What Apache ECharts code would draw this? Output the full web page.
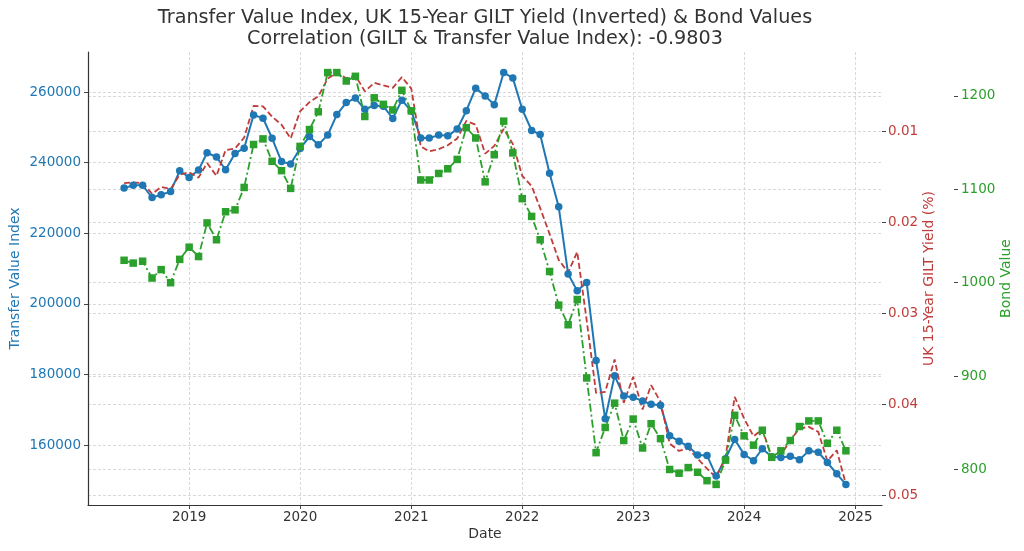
<!DOCTYPE html>
<html><head><meta charset="utf-8">
<script src="https://cdn.jsdelivr.net/npm/echarts@6/dist/echarts.min.js"></script>
<style>html,body{margin:0;padding:0;background:#fff}#c{width:1024px;height:551px}</style>
</head><body><div id="c"></div>
<script>
// ---- data ----
const dates = [
 '2018-06-01','2018-07-01','2018-08-01','2018-09-01','2018-10-01','2018-11-01','2018-12-01',
 '2019-01-01','2019-02-01','2019-03-01','2019-04-01','2019-05-01','2019-06-01','2019-07-01','2019-08-01','2019-09-01','2019-10-01','2019-11-01','2019-12-01',
 '2020-01-01','2020-02-01','2020-03-01','2020-04-01','2020-05-01','2020-06-01','2020-07-01','2020-08-01','2020-09-01','2020-10-01','2020-11-01','2020-12-01',
 '2021-01-01','2021-02-01','2021-03-01','2021-04-01','2021-05-01','2021-06-01','2021-07-01','2021-08-01','2021-09-01','2021-10-01','2021-11-01','2021-12-01',
 '2022-01-01','2022-02-01','2022-03-01','2022-04-01','2022-05-01','2022-06-01','2022-07-01','2022-08-01','2022-09-01','2022-10-01','2022-11-01','2022-12-01',
 '2023-01-01','2023-02-01','2023-03-01','2023-04-01','2023-05-01','2023-06-01','2023-07-01','2023-08-01','2023-09-01','2023-10-01','2023-11-01','2023-12-01',
 '2024-01-01','2024-02-01','2024-03-01','2024-04-01','2024-05-01','2024-06-01','2024-07-01','2024-08-01','2024-09-01','2024-10-01','2024-11-01','2024-12-01'
];
const transferValueIndex = [
 232800,233600,233600,230100,230900,231800,237700,235800,237900,242800,
 241600,238000,242600,244100,253500,252600,246900,240300,239600,244000,
 247400,245100,247800,253600,257000,258300,255100,256200,256000,252500,
 257700,254600,247000,247000,247800,247600,249500,254700,261100,258900,
 256400,265500,264000,255100,249100,248000,237000,227500,208500,203700,
 206100,184000,167500,179700,173900,173600,172500,171600,171300,162700,
 161100,159700,157200,157100,151300,156200,161600,157400,155600,159000,
 156700,156500,156900,155900,158400,158000,155100,151900,148900
];
const giltYield = [
 0.01565,0.01559,0.01565,0.01683,0.01609,0.01631,0.01471,0.01448,0.01505,0.01345,
 0.01485,0.01202,0.01185,0.01066,0.00717,0.00721,0.00835,0.00923,0.01075,0.00776,
 0.00675,0.00611,0.00416,0.00350,0.00413,0.00381,0.00556,0.00463,0.00490,0.00518,
 0.00399,0.00526,0.01162,0.01217,0.01193,0.01149,0.01075,0.00882,0.00923,0.01242,
 0.01156,0.00969,0.01134,0.01485,0.01598,0.01841,0.02124,0.02410,0.02548,0.02322,
 0.03072,0.03876,0.03862,0.03505,0.03983,0.03696,0.04056,0.03788,0.03972,0.04430,
 0.04512,0.04485,0.04596,0.04706,0.04805,0.04578,0.03917,0.04155,0.04350,0.04276,
 0.04578,0.04559,0.04394,0.04265,0.04247,0.04302,0.04622,0.04504,0.04880
];
const bondValue = [
 1024,1021,1023,1005,1014,1000,1025,1038,1028,1064,
 1046,1076,1078,1102,1148,1154,1130,1120,1101,1146,
 1164,1183,1225,1225,1216,1221,1178,1198,1191,1185,
 1206,1184,1110,1110,1117,1122,1132,1166,1155,1108,
 1137,1173,1139,1090,1071,1046,1012,976,955,982,
 898,818,845,871,831,854,823,849,833,800,
 796,802,797,788,784,810,858,836,826,842,
 813,820,831,846,852,852,828,842,820
];
const yearTicks = [2019,2020,2021,2022,2023,2024,2025];
const tviTicks = [160000,180000,200000,220000,240000,260000];
const yieldTicks = [0.01,0.02,0.03,0.04,0.05];
const bondTicks = [800,900,1000,1100,1200];

// ---- build ----
const FONT = 'DejaVu Sans';
const BLUE = '#1f77b4', RED = '#c03c3a', GREEN = '#2ca02c';
const ts = dates.map(d => { const p = d.split('-'); return new Date(+p[0], +p[1]-1, +p[2]).getTime(); });
const yearTs = yearTicks.map(y => new Date(y,0,1).getTime());
function padRange(arr){ const mn=Math.min(...arr), mx=Math.max(...arr), r=mx-mn; return [mn-0.05*r, mx+0.05*r]; }
const xr = padRange(ts), r1 = padRange(transferValueIndex), r2 = padRange(giltYield), r3 = padRange(bondValue);
const pairs = arr => arr.map((v,i)=>[ts[i], v]);
const grid = {show:true, lineStyle:{color:'#cfcfcf', type:[3,2], width:0.8}};
const tick = {length:4, lineStyle:{color:'#444', width:1}};

const chart = echarts.init(document.getElementById('c'), null, {renderer:'canvas'});
chart.setOption({
  animation:false,
  backgroundColor:'#fff',
  title:{
    text:'Transfer Value Index, UK 15-Year GILT Yield (Inverted) & Bond Values\nCorrelation (GILT & Transfer Value Index): -0.9803',
    left:480, top:3, textAlign:'center',
    textStyle:{fontFamily:FONT, fontSize:19.2, fontWeight:'normal', color:'#333', lineHeight:21}
  },
  grid:{left:88, right:142, top:52, bottom:46, outerBoundsMode:'none', containLabel:false},
  xAxis:{
    type:'value', min:xr[0], max:xr[1], scale:true,
    name:'Date', nameLocation:'middle', nameGap:22, nameMoveOverlap:false,
    nameTextStyle:{fontFamily:FONT, fontSize:14, color:'#333'},
    axisLine:{show:true, onZero:false, lineStyle:{color:'#333', width:1.2}},
    axisTick:Object.assign({show:true, customValues:yearTs}, tick),
    axisLabel:{customValues:yearTs, formatter:v=>String(new Date(v).getFullYear()), fontFamily:FONT, fontSize:13.5, color:'#333', margin:5},
    splitLine:grid
  },
  yAxis:[
    {
      type:'value', position:'left', min:r1[0], max:r1[1],
      name:'Transfer Value Index', nameLocation:'middle', nameGap:66, nameRotate:90, nameMoveOverlap:false,
      nameTextStyle:{fontFamily:FONT, fontSize:14, color:BLUE},
      axisLine:{show:true, lineStyle:{color:'#333', width:1.2}},
      axisTick:Object.assign({show:true, customValues:tviTicks}, tick),
      axisLabel:{customValues:tviTicks, formatter:v=>String(Math.round(v)), fontFamily:FONT, fontSize:13.5, color:BLUE, margin:7},
      splitLine:grid
    },
    {
      type:'value', position:'right', inverse:true, min:r2[0], max:r2[1],
      name:'UK 15-Year GILT Yield (%)', nameLocation:'middle', nameGap:40, nameRotate:90, nameMoveOverlap:false,
      nameTextStyle:{fontFamily:FONT, fontSize:14, color:RED},
      axisLine:{show:false},
      axisTick:Object.assign({show:true, customValues:yieldTicks}, tick),
      axisLabel:{customValues:yieldTicks, formatter:v=>v.toFixed(2), fontFamily:FONT, fontSize:13.5, color:RED, margin:6},
      splitLine:grid
    },
    {
      type:'value', position:'right', offset:72, min:r3[0], max:r3[1],
      name:'Bond Value', nameLocation:'middle', nameGap:45, nameRotate:90, nameMoveOverlap:false,
      nameTextStyle:{fontFamily:FONT, fontSize:14, color:GREEN},
      axisLine:{show:false},
      axisTick:Object.assign({show:true, customValues:bondTicks}, tick),
      axisLabel:{customValues:bondTicks, formatter:v=>String(Math.round(v)), fontFamily:FONT, fontSize:13.5, color:GREEN, margin:7},
      splitLine:grid
    }
  ],
  series:[
    {type:'line', name:'Transfer Value Index', yAxisIndex:0, data:pairs(transferValueIndex),
     symbol:'circle', symbolSize:7.5, showAllSymbol:true,
     lineStyle:{color:BLUE, width:2}, itemStyle:{color:BLUE}},
    {type:'line', name:'UK 15-Year GILT Yield', yAxisIndex:1, data:pairs(giltYield),
     symbol:'none', lineStyle:{color:RED, width:1.8, type:[6,3]}, itemStyle:{color:RED}},
    {type:'line', name:'Bond Value', yAxisIndex:2, data:pairs(bondValue),
     symbol:'rect', symbolSize:7.5, showAllSymbol:true,
     lineStyle:{color:GREEN, width:1.8, type:[8,3,2,3]}, itemStyle:{color:GREEN}}
  ]
});
</script>
</body></html>
